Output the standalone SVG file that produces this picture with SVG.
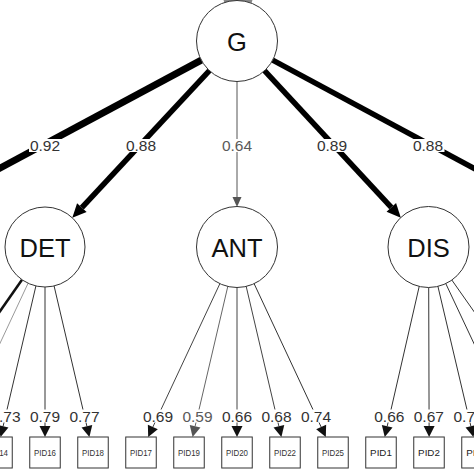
<svg xmlns="http://www.w3.org/2000/svg" width="474" height="474" viewBox="0 0 474 474">
<style>
.lat{fill:#fff;stroke:#333;stroke-width:1}
.man{fill:#fff;stroke:#333;stroke-width:1}
.lt{font-family:"Liberation Sans",Arial,sans-serif;font-size:25.5px;fill:#111;text-anchor:middle}
.mt{font-family:"Liberation Sans",Arial,sans-serif;font-size:9.6px;fill:#333;text-anchor:middle}
.el{font-family:"Liberation Sans",Arial,sans-serif;font-size:15.5px;fill:#333;text-anchor:middle}
.elg{fill:#5a5a5a}
.bg{fill:#fff}
.e{fill:none;stroke-linecap:butt}
</style>
<defs>
<marker id="ahBig" markerUnits="userSpaceOnUse" orient="auto" refX="0" refY="0" markerWidth="16" markerHeight="14" overflow="visible"><path d="M0,-6.5 L14,0 L0,6.5 z" fill="#000"/></marker>
<marker id="ahG" markerUnits="userSpaceOnUse" orient="auto" refX="0" refY="0" markerWidth="12" markerHeight="10" overflow="visible"><path d="M0,-4.5 L10,0 L0,4.5 z" fill="#555"/></marker>
<marker id="ahS" markerUnits="userSpaceOnUse" orient="auto" refX="0" refY="0" markerWidth="12" markerHeight="12" overflow="visible"><path d="M0,-5.5 L11,0 L0,5.5 z" fill="#111"/></marker>
<marker id="ahSG" markerUnits="userSpaceOnUse" orient="auto" refX="0" refY="0" markerWidth="12" markerHeight="12" overflow="visible"><path d="M0,-5.5 L11,0 L0,5.5 z" fill="#555"/></marker>
</defs>
<rect width="474" height="474" fill="#fff"/>
<g id="connectors">
<path class="e" d="M224,1.5 Q238,-3 252,1.5" stroke="#888" stroke-width="3"/>
<line class="e" x1="201.3" y1="60.2" x2="-111.8" y2="228.1" stroke="#000" stroke-width="7"/>
<line class="e" x1="209.4" y1="70.6" x2="81.85" y2="207.57" stroke="#000" stroke-width="5.5" marker-end="url(#ahBig)"/>
<line class="e" x1="237" y1="81.5" x2="237" y2="197" stroke="#555" stroke-width="1" marker-end="url(#ahG)"/>
<line class="e" x1="264.5" y1="70.7" x2="391.3" y2="207.4" stroke="#000" stroke-width="5.5" marker-end="url(#ahBig)"/>
<line class="e" x1="272.7" y1="60.2" x2="584.8" y2="228" stroke="#000" stroke-width="5.5"/>
<line class="e" x1="22" y1="279.8" x2="-81.8" y2="428" stroke="#111" stroke-width="2.5" marker-end="url(#ahS)"/>
<line class="e" x1="28.1" y1="283.2" x2="-39.15" y2="427" stroke="#999" stroke-width="1" marker-end="url(#ahSG)"/>
<line class="e" x1="35.9" y1="286" x2="3.1" y2="426.3" stroke="#333" stroke-width="1" marker-end="url(#ahS)"/>
<line class="e" x1="45" y1="287" x2="45" y2="426" stroke="#333" stroke-width="1" marker-end="url(#ahS)"/>
<line class="e" x1="54.1" y1="286" x2="86.9" y2="426.3" stroke="#333" stroke-width="1" marker-end="url(#ahS)"/>
<line class="e" x1="220.1" y1="283.2" x2="152.85" y2="427.03" stroke="#444" stroke-width="1" marker-end="url(#ahS)"/>
<line class="e" x1="227.9" y1="286" x2="195.1" y2="426.3" stroke="#666" stroke-width="1" marker-end="url(#ahSG)"/>
<line class="e" x1="237" y1="287" x2="237" y2="426" stroke="#444" stroke-width="1" marker-end="url(#ahS)"/>
<line class="e" x1="246.1" y1="286" x2="278.9" y2="426.3" stroke="#444" stroke-width="1" marker-end="url(#ahS)"/>
<line class="e" x1="253.9" y1="283.2" x2="321.15" y2="427.03" stroke="#333" stroke-width="1" marker-end="url(#ahS)"/>
<line class="e" x1="419.3" y1="286" x2="387.2" y2="426.3" stroke="#333" stroke-width="1" marker-end="url(#ahS)"/>
<line class="e" x1="428.7" y1="287" x2="429.1" y2="426" stroke="#333" stroke-width="1" marker-end="url(#ahS)"/>
<line class="e" x1="437.8" y1="285.9" x2="470.9" y2="426.3" stroke="#333" stroke-width="1" marker-end="url(#ahS)"/>
<line class="e" x1="445.6" y1="283.2" x2="513.2" y2="427" stroke="#333" stroke-width="1" marker-end="url(#ahS)"/>
<line class="e" x1="451.6" y1="279.7" x2="555.9" y2="428" stroke="#333" stroke-width="1" marker-end="url(#ahS)"/>
</g>
<g id="edge-labels">
<rect class="bg" x="29" y="139" width="33" height="13"/><text class="el" x="45" y="151">0.92</text>
<rect class="bg" x="124.5" y="139" width="33" height="13"/><text class="el" x="141" y="151">0.88</text>
<rect class="bg" x="220.5" y="139" width="33" height="13"/><text class="el elg" x="237" y="151">0.64</text>
<rect class="bg" x="315.5" y="139" width="33" height="13"/><text class="el" x="332" y="151">0.89</text>
<rect class="bg" x="411.5" y="139" width="33" height="13"/><text class="el" x="428" y="151">0.88</text>
<rect class="bg" x="-10.5" y="409.5" width="32" height="13"/><text class="el" x="5.5" y="421.5">0.73</text>
<rect class="bg" x="29" y="409.5" width="32" height="13"/><text class="el" x="45" y="421.5">0.79</text>
<rect class="bg" x="68.5" y="409.5" width="32" height="13"/><text class="el" x="84.5" y="421.5">0.77</text>
<rect class="bg" x="142" y="409.5" width="32" height="13"/><text class="el" x="158" y="421.5">0.69</text>
<rect class="bg" x="181.5" y="409.5" width="32" height="13"/><text class="el elg" x="197.5" y="421.5">0.59</text>
<rect class="bg" x="221" y="409.5" width="32" height="13"/><text class="el" x="237" y="421.5">0.66</text>
<rect class="bg" x="260.5" y="409.5" width="32" height="13"/><text class="el" x="276.5" y="421.5">0.68</text>
<rect class="bg" x="300" y="409.5" width="32" height="13"/><text class="el" x="316" y="421.5">0.74</text>
<rect class="bg" x="373.3" y="409.5" width="32" height="13"/><text class="el" x="389.3" y="421.5">0.66</text>
<rect class="bg" x="412.8" y="409.5" width="32" height="13"/><text class="el" x="428.8" y="421.5">0.67</text>
<rect class="bg" x="452.5" y="409.5" width="30" height="13"/><text class="el" x="453.5" y="421.5" style="text-anchor:start">0.7</text>
</g>
<g id="node-G"><circle class="lat" cx="237" cy="41" r="40.5"/><text class="lt" x="237" y="50.5">G</text></g>
<g id="node-DET"><circle class="lat" cx="45" cy="247" r="40"/><text class="lt" x="45" y="256.5">DET</text></g>
<g id="node-ANT"><circle class="lat" cx="237" cy="247" r="40.5"/><text class="lt" x="237" y="256.5">ANT</text></g>
<g id="node-DIS"><circle class="lat" cx="428.5" cy="247" r="40.5"/><text class="lt" x="428.5" y="256.5">DIS</text></g>
<g id="node-PID14"><rect class="man" x="-18.25" y="437" width="30.5" height="31"/><text class="mt" x="-3" y="456" textLength="22" lengthAdjust="spacingAndGlyphs">PID14</text></g>
<g id="node-PID16"><rect class="man" x="29.75" y="437" width="30.5" height="31"/><text class="mt" x="45" y="456" textLength="22" lengthAdjust="spacingAndGlyphs">PID16</text></g>
<g id="node-PID18"><rect class="man" x="77.75" y="437" width="30.5" height="31"/><text class="mt" x="93" y="456" textLength="22" lengthAdjust="spacingAndGlyphs">PID18</text></g>
<g id="node-PID17"><rect class="man" x="125.75" y="437" width="30.5" height="31"/><text class="mt" x="141" y="456" textLength="22" lengthAdjust="spacingAndGlyphs">PID17</text></g>
<g id="node-PID19"><rect class="man" x="173.75" y="437" width="30.5" height="31"/><text class="mt" x="189" y="456" textLength="22" lengthAdjust="spacingAndGlyphs">PID19</text></g>
<g id="node-PID20"><rect class="man" x="221.75" y="437" width="30.5" height="31"/><text class="mt" x="237" y="456" textLength="22" lengthAdjust="spacingAndGlyphs">PID20</text></g>
<g id="node-PID22"><rect class="man" x="269.75" y="437" width="30.5" height="31"/><text class="mt" x="285" y="456" textLength="22" lengthAdjust="spacingAndGlyphs">PID22</text></g>
<g id="node-PID25"><rect class="man" x="317.75" y="437" width="30.5" height="31"/><text class="mt" x="333" y="456" textLength="22" lengthAdjust="spacingAndGlyphs">PID25</text></g>
<g id="node-PID1"><rect class="man" x="365.75" y="437" width="30.5" height="31"/><text class="mt" x="381" y="456" style="font-size:9.8px;fill:#222">PID1</text></g>
<g id="node-PID2"><rect class="man" x="413.75" y="437" width="30.5" height="31"/><text class="mt" x="429" y="456" style="font-size:9.8px;fill:#222">PID2</text></g>
<g id="node-PI"><rect class="man" x="461.75" y="437" width="30.5" height="31"/><text class="mt" x="466.2" y="456" style="font-size:9.8px;fill:#222;text-anchor:start">PI</text></g>
</svg>
